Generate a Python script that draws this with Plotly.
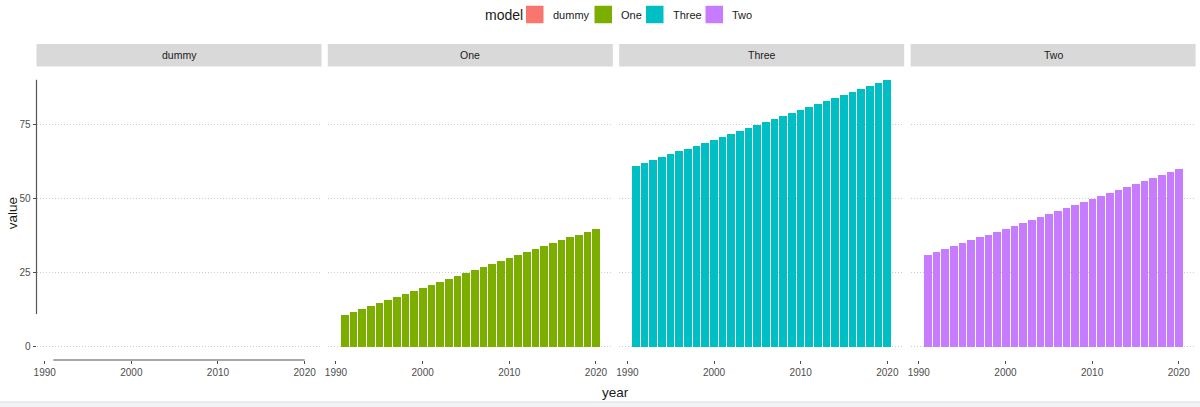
import plotly.graph_objects as go

# ---------------- data ----------------
models = ["dummy", "One", "Three", "Two"]
colors = ["#F8766D", "#7CAE00", "#00BFC4", "#C77CFF"]
years = [1991, 1992, 1993, 1994, 1995, 1996, 1997, 1998, 1999, 2000,
         2001, 2002, 2003, 2004, 2005, 2006, 2007, 2008, 2009, 2010,
         2011, 2012, 2013, 2014, 2015, 2016, 2017, 2018, 2019, 2020]
values_dummy = [None] * 30
values_one = [11, 12, 13, 14, 15, 16, 17, 18, 19, 20,
              21, 22, 23, 24, 25, 26, 27, 28, 29, 30,
              31, 32, 33, 34, 35, 36, 37, 38, 39, 40]
values_three = [61, 62, 63, 64, 65, 66, 67, 68, 69, 70,
                71, 72, 73, 74, 75, 76, 77, 78, 79, 80,
                81, 82, 83, 84, 85, 86, 87, 88, 89, 90]
values_two = [31, 32, 33, 34, 35, 36, 37, 38, 39, 40,
              41, 42, 43, 44, 45, 46, 47, 48, 49, 50,
              51, 52, 53, 54, 55, 56, 57, 58, 59, 60]
x_ticks = [1990, 2000, 2010, 2020]
y_ticks = [0, 25, 50, 75]
series = [values_dummy, values_one, values_three, values_two]

# ---------------- layout constants ----------------
W, H = 1200, 407
FONT = "Liberation Sans, Arial, sans-serif"
panel_left = [36.5, 327.8, 619.2, 910.6]
panel_w = 285.0
panel_top, panel_bot = 66.5, 360.0
strip_top = 44.0
bar_w = 0.9

def px(x):
    return x / W

def py(y):
    return (H - y) / H

# axis ranges like ggplot (5% expansion)
xmin = min(years) - bar_w / 2
xmax = max(years) + bar_w / 2
xpad = 0.05 * (xmax - xmin)
x_range = [xmin - xpad, xmax + xpad]
all_vals = [v for s in series for v in s if v is not None]
ymax = max(all_vals)
y_range = [0 - 0.05 * ymax, ymax + 0.05 * ymax]

fig = go.Figure()
for i, (m, c, vals) in enumerate(zip(models, colors, series)):
    fig.add_trace(go.Bar(
        x=years, y=vals, width=bar_w, marker=dict(color=c, line=dict(width=0)),
        name=m, showlegend=False,
        xaxis="x" if i == 0 else f"x{i+1}",
        yaxis="y" if i == 0 else f"y{i+1}",
    ))

layout = dict(
    width=W, height=H,
    margin=dict(l=0, r=0, t=0, b=0),
    paper_bgcolor="white", plot_bgcolor="white",
    font=dict(family=FONT, color="#4D4D4D"),
    bargap=0,
    showlegend=False,
)
for i in range(4):
    sx = "" if i == 0 else str(i + 1)
    d0 = px(panel_left[i])
    d1 = px(panel_left[i] + panel_w)
    layout[f"xaxis{sx}"] = dict(
        domain=[d0, d1], range=x_range, anchor=f"y{sx}",
        tickmode="array", tickvals=x_ticks, ticks="outside", ticklen=3,
        tickwidth=1, tickcolor="#4D4D4D", showgrid=False, zeroline=False,
        showline=False, tickfont=dict(size=10, color="#4D4D4D", family=FONT),
        automargin=False, fixedrange=True,
    )
    layout[f"yaxis{sx}"] = dict(
        domain=[py(panel_bot), py(panel_top)], range=y_range, anchor=f"x{sx}",
        tickmode="array", tickvals=y_ticks,
        ticks="outside" if i == 0 else "", ticklen=3, tickwidth=1,
        tickcolor="#4D4D4D", showticklabels=(i == 0),
        showgrid=True, gridcolor="#CCCCCC", griddash="1px,2px", gridwidth=1,
        zeroline=False, showline=False,
        tickfont=dict(size=10, color="#4D4D4D", family=FONT),
        automargin=False, fixedrange=True,
    )
fig.update_layout(**layout)

shapes = []
annotations = []
# facet strips
for i, m in enumerate(models):
    shapes.append(dict(type="rect", xref="paper", yref="paper",
                       x0=px(panel_left[i]), x1=px(panel_left[i] + panel_w),
                       y0=py(panel_top), y1=py(strip_top),
                       fillcolor="#D9D9D9", line=dict(width=0), layer="below"))
    annotations.append(dict(text=m, xref="paper", yref="paper",
                            x=px(panel_left[i] + panel_w / 2),
                            y=py((strip_top + panel_top) / 2),
                            showarrow=False, xanchor="center", yanchor="middle",
                            font=dict(size=10.5, color="#1A1A1A", family=FONT)))

# capped axis lines in the first panel (data range)
shapes.append(dict(type="line", xref="x", yref="y domain",
                   x0=min(years), x1=max(years), y0=0, y1=0,
                   line=dict(color="#555555", width=1.2)))
shapes.append(dict(type="line", xref="x domain", yref="y",
                   x0=0, x1=0, y0=min(all_vals), y1=ymax,
                   line=dict(color="#555555", width=1.2)))

# axis titles
annotations.append(dict(text="year", xref="paper", yref="paper",
                        x=px(615), y=py(392), showarrow=False,
                        xanchor="center", yanchor="middle",
                        font=dict(size=13.5, color="#1A1A1A", family=FONT)))
annotations.append(dict(text="value", xref="paper", yref="paper",
                        x=px(12), y=py((panel_top + panel_bot) / 2),
                        showarrow=False, textangle=-90,
                        xanchor="center", yanchor="middle",
                        font=dict(size=13.5, color="#1A1A1A", family=FONT)))

# legend (manual, ggplot-style keys)
legend_key_x = [526.0, 594.5, 646.0, 705.5]
key = 17.5
key_cy = 14.5
annotations.append(dict(text="model", xref="paper", yref="paper",
                        x=px(483), y=py(15.5), showarrow=False,
                        xanchor="left", yanchor="middle",
                        font=dict(size=14, color="#1A1A1A", family=FONT)))
for m, c, kx in zip(models, colors, legend_key_x):
    shapes.append(dict(type="rect", xref="paper", yref="paper",
                       x0=px(kx), x1=px(kx + key),
                       y0=py(key_cy + key / 2), y1=py(key_cy - key / 2),
                       fillcolor=c, line=dict(width=0)))
    annotations.append(dict(text=m, xref="paper", yref="paper",
                            x=px(kx + key + 7), y=py(key_cy + 0.5),
                            showarrow=False, xanchor="left", yanchor="middle",
                            font=dict(size=11, color="#1A1A1A", family=FONT)))

# light band at the bottom of the frame
shapes.append(dict(type="rect", xref="paper", yref="paper",
                   x0=0, x1=1, y0=0, y1=py(402),
                   fillcolor="#F1F3F4", line=dict(width=0)))
shapes.append(dict(type="line", xref="paper", yref="paper",
                   x0=0, x1=1, y0=py(402), y1=py(402),
                   line=dict(color="#DADCE0", width=1)))

fig.update_layout(shapes=shapes, annotations=annotations)
fig.write_html("out.html",
               config={"displayModeBar": False},
               post_script="document.body.style.margin='0';"
                           "document.body.style.overflow='hidden';")
